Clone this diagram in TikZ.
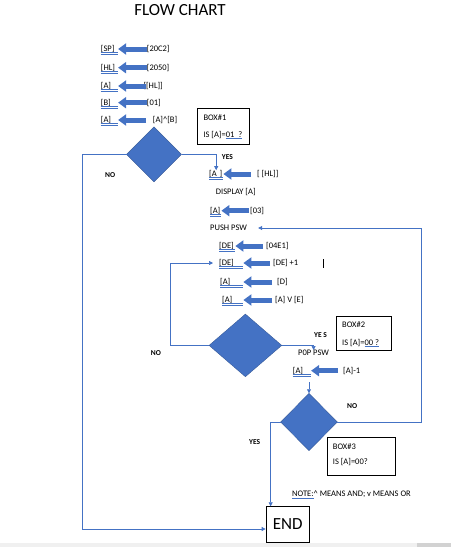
\documentclass[tikz,border=0pt]{standalone}
\usepackage{fontspec}
\setmainfont{Carlito}
\usetikzlibrary{
  positioning,
  arrows.meta,
  shapes.geometric
}

\definecolor{fillblue}{HTML}{4472C4}
\definecolor{lineblue}{HTML}{4472C4}
\definecolor{edgeblue}{HTML}{2F528F}

\newcommand{\blueul}[1]{{\color{lineblue}\underline{\color{black}#1}}}

\tikzset{
  txt/.style={anchor=west,inner sep=0pt,font=\fontsize{8.5}{10}\selectfont},
  reg/.style={txt,text width=#1},
  lbl/.style={anchor=west,inner sep=0pt,font=\fontsize{7.5}{9}\selectfont\bfseries},
  fat/.style={draw=fillblue,line width=5pt,-{Triangle[length=8pt,width=11pt]}},
  link/.style={draw=lineblue,line width=0.7pt,-{Triangle[length=4pt,width=4pt]}},
  dia/.style={diamond,fill=fillblue,draw=edgeblue,line width=0.3pt,inner sep=0pt,outer sep=0pt},
  box/.style={draw=black,line width=0.8pt,inner sep=0pt},
  uline/.style={draw=lineblue,line width=0.45pt}
}

\begin{document}
\begin{tikzpicture}[x=1pt,y=-1pt]
  \useasboundingbox (0,0) rectangle (451,547);

  % タイトル
  \node[font=\fontsize{17}{20}\selectfont,inner sep=0pt] (title) at (180,10) {FLOW CHART};

  % 初期設定
  \node[reg=17pt] (r1) at (100.7,49) {[SP]};
  \node[txt] (v1) at (146.7,49) {[20C2]};
  \node[reg=17pt] (r2) at (100.7,67.7) {[HL]};
  \node[txt] (v2) at (146.7,67.7) {[2050]};
  \node[reg=17pt] (r3) at (100.7,86) {[A]};
  \node[txt] (v3) at (143.3,86) {[[HL]]};
  \node[reg=17pt] (r4) at (100.7,102.7) {[B]};
  \node[txt] (v4) at (146.7,102.7) {[01]};
  \node[reg=17pt] (r5) at (100.7,120) {[A]};
  \node[txt] (v5) at (152.7,120) {[A]\textasciicircum[B]};

  % 本体
  \node[reg=14pt] (r6) at (209,174) {[A ]};
  \node[txt] (v6) at (257,174) {[ [HL]]};
  \node[txt] (disp) at (215.7,192) {DISPLAY [A]};
  \node[reg=11pt] (r7) at (210,210.7) {[A]};
  \node[txt] (v7) at (250,210.7) {[03]};
  \node[txt] (push) at (210,228) {PUSH PSW};
  \node[reg=16pt] (r8) at (219,246) {[DE]};
  \node[txt] (v8) at (266,246) {[04E1]};
  \node[reg=24pt] (r9) at (219,263) {[DE]};
  \node[txt] (v9) at (273,263) {[DE] +1};
  \node[reg=23pt] (r10) at (220,282) {[A]};
  \node[txt] (v10) at (277,282) {[D]};
  \node[reg=21pt] (r11) at (222,300) {[A]};
  \node[txt] (v11) at (275,300) {[A] V [E]};
  \node[txt] (pop) at (298,353) {P0P PSW};
  \node[reg=18pt] (r12) at (292.7,370.7) {[A]};
  \node[txt] (v12) at (343,370.7) {[A]-1};

  % 二重下線
  \foreach \r in {r1,r2,r3,r4,r5,r6,r7,r8,r9,r10,r11,r12} {
    \draw[uline] ([yshift=0.5pt]\r.south west) -- ([yshift=0.5pt]\r.south east);
    \draw[uline] ([yshift=-1.2pt]\r.south west) -- ([yshift=-1.2pt]\r.south east);
  }

  % 代入の矢印
  \foreach \r/\v/\s in {r1/v1/0, r2/v2/0, r3/v3/-2.7, r4/v4/0, r5/v5/6.7,
      r6/v6/6, r7/v7/1, r8/v8/3, r9/v9/3, r10/v10/5, r11/v11/3, r12/v12/5}
    \draw[fat,shorten <=\s pt] (\v.west) -- (\r.east);

  % 判断
  \node[dia,minimum width=55pt,minimum height=55pt] (d1) at (154,154.3) {};
  \node[dia,minimum width=72.7pt,minimum height=62.7pt] (d2) at (245.4,345.4) {};
  \node[dia,minimum width=56.6pt,minimum height=57.4pt] (d3) at (309,422) {};

  % 説明の箱
  \node[box,minimum width=52pt,minimum height=35.7pt] (box1) at (223.3,126.2) {};
  \node[txt] (box1a) at (203.3,117.3) {BOX\#1};
  \node[txt] (box1b) at (203.3,135) {IS [A]=\blueul{01\ \ ?}};
  \node[box,minimum width=55pt,minimum height=34pt] (box2) at (364.2,333.7) {};
  \node[txt] (box2a) at (342,325) {BOX\#2};
  \node[txt] (box2b) at (342,343) {IS [A]=\blueul{00 ?}};
  \node[box,minimum width=68.7pt,minimum height=38pt] (box3) at (361.4,456) {};
  \node[txt] (box3a) at (332.7,446.7) {BOX\#3};
  \node[txt] (box3b) at (332.7,461.7) {IS [A]=00?};

  % 終了
  \node[box,minimum width=43.3pt,minimum height=35.6pt,font=\fontsize{17}{20}\selectfont] (endbox) at (287.7,524.5) {END};
  \node[txt] (note) at (292,495) {\blueul{NOTE:}\textasciicircum{} MEANS AND; v MEANS OR};

  % ラベル
  \node[lbl] (yes1) at (221.7,156.7) {YES};
  \node[lbl] (no1) at (105,175) {NO};
  \node[lbl] (yes2) at (314,335) {YE S};
  \node[lbl] (no2) at (150.7,353) {NO};
  \node[lbl] (no3) at (347,405.7) {NO};
  \node[lbl] (yes3) at (249,442) {YES};

  % 流れ線
  \draw[link] (d1.east) -| (r6.north);
  \draw[link] (d1.west) -- ++(-44,0) |- ([yshift=-4.5pt]endbox.west);
  \draw[link] (d3.east) -- ++(84,0) |- ([xshift=11pt]push.east);
  \draw[link] (d2.west) -- ++(-38.5,0) |- ([xshift=-6pt]r9.west);
  \draw[link] (d2.east) -| (pop.north);
  \draw[link] ([yshift=11pt]d3.north) -- (d3.north);
  \draw[link] (d3.west) -| ([xshift=5pt]endbox.north west);

  % カーソル
  \draw[line width=0.8pt] (323,259) -- (323,268);

  % 下端の帯
  \fill[gray!12] (0,542.5) rectangle (451,547);
  \fill[gray!35] (416.7,542.5) rectangle (451,547);
\end{tikzpicture}
\end{document}
